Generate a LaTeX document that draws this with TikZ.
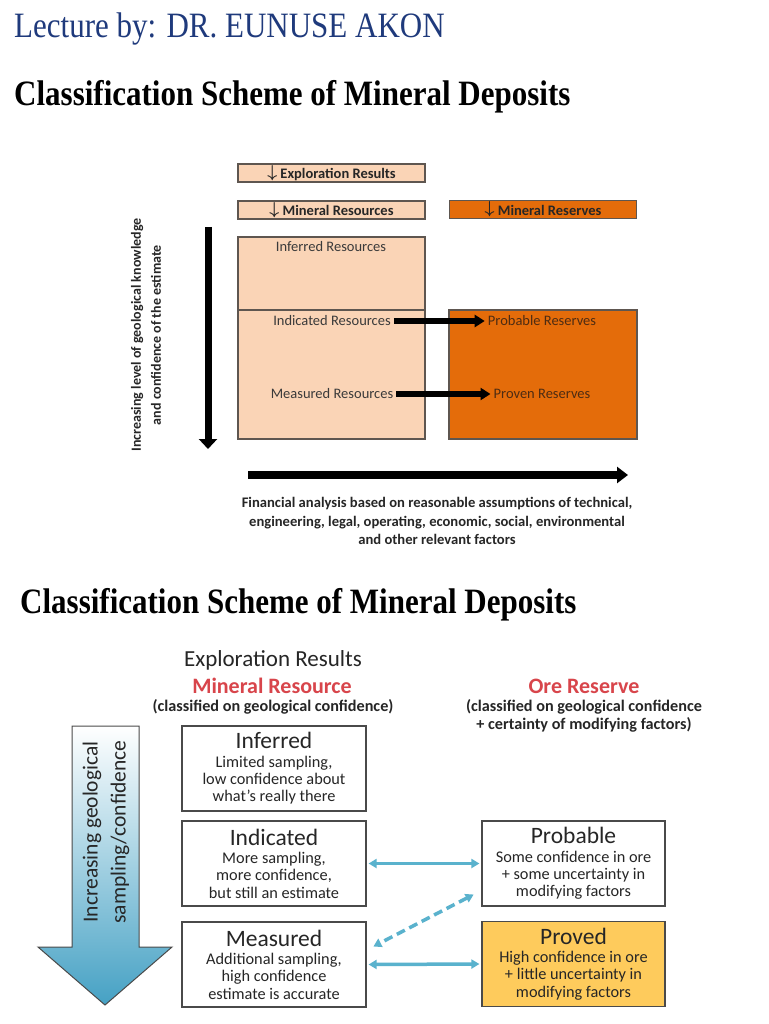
\documentclass[tikz,border=0pt]{standalone}
\usepackage{fontspec}
\setmainfont{Liberation Serif}
\newfontfamily\carl{Carlito}
\usetikzlibrary{arrows.meta}
\definecolor{navy}{HTML}{1F3A7C}
\definecolor{peach}{HTML}{FAD4B6}
\definecolor{orng}{HTML}{E46C0A}
\definecolor{rim}{HTML}{5E5650}
\definecolor{ink}{HTML}{3A3A3A}
\definecolor{brwn}{HTML}{4E2C12}
\definecolor{rubin}{HTML}{D8454B}
\definecolor{sky}{HTML}{5AB2CD}
\definecolor{skyd}{HTML}{45A1C4}
\definecolor{gold}{HTML}{FECB5C}
\definecolor{frame}{HTML}{4A4A4A}
\tikzset{
  hdr/.style={draw=rim,fill=peach,line width=1.2pt,minimum width=187pt,minimum height=18pt,inner sep=0pt,font=\carl\bfseries\fontsize{14.5}{16}\selectfont,text=black!85},
  blk/.style={draw=rim,fill=peach,line width=1.2pt,minimum width=187pt,inner sep=0pt},
  lbl/.style={inner sep=3pt,font=\carl\fontsize{14.5}{16}\selectfont,text=ink},
  fat/.style={-{Triangle[length=10pt,width=12pt]},line width=5.5pt},
  ttl/.style={anchor=base west,inner sep=0pt,font=\fontsize{31}{31}\selectfont},
  hd/.style={inner sep=1pt,font=\carl\fontsize{23}{25}\selectfont,text=black!85},
  redhd/.style={inner sep=1pt,font=\carl\bfseries\fontsize{22}{24}\selectfont,text=rubin},
  sub/.style={inner sep=1pt,align=center,font=\carl\bfseries\fontsize{16.2}{18}\selectfont,text=black!85},
  catbox/.style={draw=frame,line width=1.2pt,minimum width=184pt,minimum height=85pt,align=center,inner sep=0pt,font=\carl\fontsize{16.3}{17.3}\selectfont,text=black!85},
  link/.style={{Triangle[length=8pt,width=9pt]}-{Triangle[length=8pt,width=9pt]},sky,line width=3.5pt,shorten <=2pt,shorten >=2pt},
}
\newcommand{\cattl}[1]{{\fontsize{23.5}{23.5}\selectfont #1}\\[1pt]}
\newcommand{\dn}{\raisebox{1.5pt}{\scalebox{1.2}{\boldmath$\downarrow$}}}

\begin{document}
\begin{tikzpicture}[x=1pt,y=-1pt]
  \useasboundingbox[fill=white] (0,0) rectangle (768,1024);
  \node[ttl,text=navy] (lect) at (14,38) {\scalebox{1}[1.15]{Lecture by: DR. EUNUSE AKON}};
  \node[ttl,font=\bfseries\fontsize{31}{31}\selectfont] (ttla) at (14,106) {\scalebox{1}[1.15]{Classification Scheme of Mineral Deposits}};

  \node[hdr] (expl) at (331.5,173) {\dn\ Exploration Results};
  \node[hdr] (minres) at (331.5,210) {\dn\ Mineral Resources};
  \node[hdr,fill=orng] (minrsv) at (543,209.5) {\dn\ Mineral Reserves};
  \node[blk,minimum height=73pt] (infbox) at (331.5,273.5) {};
  \node[blk,minimum height=129pt] (indbox) at (331.5,374.5) {};
  \node[blk,fill=orng,minimum width=188pt,minimum height=129pt] (rsvbox) at (543,374.5) {};
  \node[lbl] (inflbl) at (331,247) {Inferred Resources};
  \node[lbl] (indlbl) at (332,321) {Indicated Resources};
  \node[lbl] (meslbl) at (332,394) {Measured Resources};
  \node[lbl,text=brwn] (problbl) at (542,321) {Probable Reserves};
  \node[lbl,text=brwn] (provlbl) at (542,394) {Proven Reserves};
  \draw[fat] (indlbl.east) -- (problbl.west);
  \draw[fat] (meslbl.east) -- (provlbl.west);

  \coordinate (vtop) at (208,227);
  \coordinate (vbot) at (208,449);
  \draw[-{Triangle[length=10pt,width=18pt]},line width=7pt] (vtop) -- (vbot);
  \node[rotate=90,align=center,inner sep=0pt,font=\carl\bfseries\fontsize{14}{20}\selectfont,text=black!85] (axlbl) at (146,335)
    {Increasing level of geological knowledge\\and confidence of the estimate};
  \coordinate (hleft) at (248,475);
  \coordinate (hright) at (628,475);
  \draw[-{Triangle[length=11pt,width=16pt]},line width=7.5pt] (hleft) -- (hright);
  \node[align=center,inner sep=0pt,font=\carl\bfseries\fontsize{14.6}{18.5}\selectfont,text=black!85] (fin) at (437,521)
    {Financial analysis based on reasonable assumptions of technical,\\engineering, legal, operating, economic, social, environmental\\and other relevant factors};

  \node[ttl,font=\bfseries\fontsize{31}{31}\selectfont] (ttlb) at (20,613) {\scalebox{1}[1.15]{Classification Scheme of Mineral Deposits}};

  \node[hd] (explr) at (273,660) {Exploration Results};
  \node[redhd] (mres) at (272,686) {Mineral Resource};
  \node[sub] (mressub) at (273,707) {(classified on geological confidence)};
  \node[redhd] (orsv) at (584,686) {Ore Reserve};
  \node[sub] (orsvsub) at (584,716) {(classified on geological confidence\\+ certainty of modifying factors)};

  \shadedraw[top color=white,bottom color=skyd,draw=frame,line width=1pt]
    (72,726) -- (139,726) -- (139,947) -- (172,947) -- (105,1005) -- (38,947) -- (72,947) -- cycle;
  \node[rotate=90,align=center,inner sep=0pt,font=\carl\fontsize{21.5}{28}\selectfont,text=black!85] (sampl) at (106,832)
    {Increasing geological\\sampling/confidence};

  \node[catbox] (inf) at (274,768.5) {\cattl{Inferred}Limited sampling,\\low confidence about\\what’s really there};
  \node[catbox] (ind) at (274,863.5) {\cattl{Indicated}More sampling,\\more confidence,\\but still an estimate};
  \node[catbox] (mes) at (274,964.5) {\cattl{Measured}Additional sampling,\\high confidence\\estimate is accurate};
  \node[catbox,minimum width=183pt] (prob) at (573.5,863.5) {\cattl{Probable}Some confidence in ore\\+ some uncertainty in\\modifying factors};
  \node[catbox,minimum width=183pt,fill=gold] (prov) at (573.5,964) {\cattl{Proved}High confidence in ore\\+ little uncertainty in\\modifying factors};

  \draw[link] (ind.east) -- (prob.west);
  \draw[link] (mes.east) -- (prov.west);
  \draw[link,dash pattern=on 9pt off 5pt] ([xshift=-6pt,yshift=13pt]prob.south west) -- ([xshift=5pt,yshift=-26pt]mes.north east);
\end{tikzpicture}
\end{document}
